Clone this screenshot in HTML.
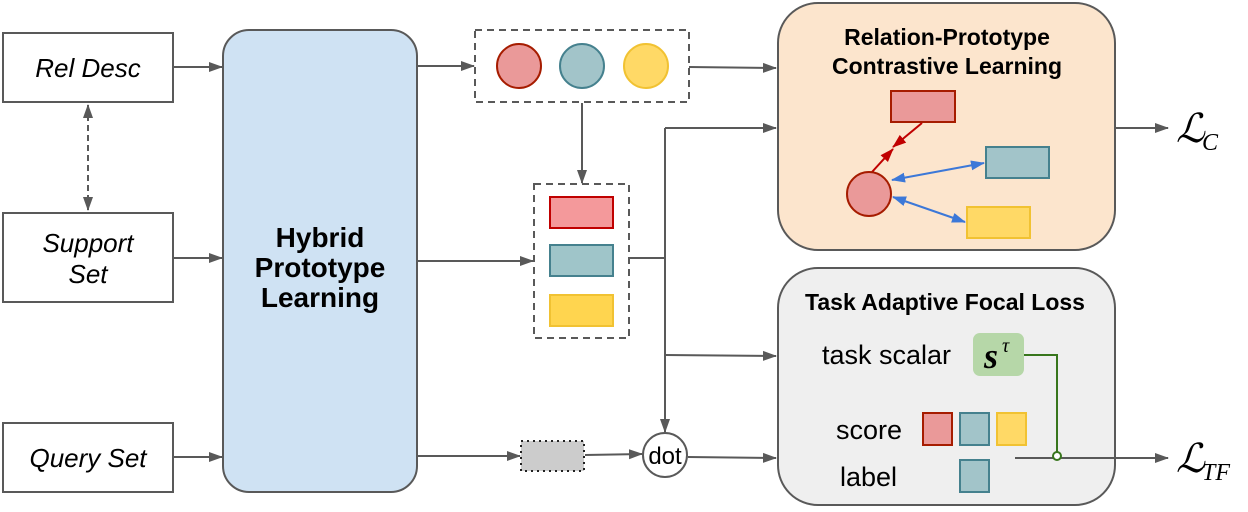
<!DOCTYPE html>
<html><head><style>body{margin:0;background:#fff}svg{display:block}</style></head><body>
<svg width="1248" height="512" viewBox="0 0 1248 512" xmlns="http://www.w3.org/2000/svg" font-family="Liberation Sans, Arial, sans-serif">
<defs>
<marker id="a" markerWidth="14" markerHeight="12" refX="13" refY="6" orient="auto" markerUnits="userSpaceOnUse"><path d="M0,1 L14,6 L0,11 z" fill="#595959"/></marker>
<marker id="as" markerWidth="14" markerHeight="12" refX="13" refY="6" orient="auto-start-reverse" markerUnits="userSpaceOnUse"><path d="M0,1 L14,6 L0,11 z" fill="#595959"/></marker>
<marker id="r" markerWidth="14" markerHeight="12" refX="13" refY="6" orient="auto" markerUnits="userSpaceOnUse"><path d="M0,1 L14,6 L0,11 z" fill="#c00000"/></marker>
<marker id="b" markerWidth="14" markerHeight="12" refX="13" refY="6" orient="auto-start-reverse" markerUnits="userSpaceOnUse"><path d="M0,1 L14,6 L0,11 z" fill="#3c78d8"/></marker>
</defs>
<g stroke="#595959" stroke-width="2" fill="none">
<rect x="3" y="33" width="170" height="69" fill="#fff"/>
<rect x="3" y="213" width="170" height="89" fill="#fff"/>
<rect x="3" y="423" width="170" height="69" fill="#fff"/>
<line x1="88" y1="105" x2="88" y2="210" stroke-dasharray="6,4" marker-start="url(#as)" marker-end="url(#as)"/>
<rect x="223" y="30" width="194" height="462" rx="26" fill="#cfe2f3"/>
<line x1="173" y1="67" x2="222" y2="67" marker-end="url(#a)"/>
<line x1="173" y1="258" x2="222" y2="258" marker-end="url(#a)"/>
<line x1="173" y1="457" x2="222" y2="457" marker-end="url(#a)"/>
<rect x="475" y="30" width="214" height="72" stroke-dasharray="7,5"/>
<line x1="417" y1="66" x2="474" y2="66" marker-end="url(#a)"/>
<line x1="689" y1="67" x2="776" y2="68" marker-end="url(#a)"/>
<line x1="582" y1="103" x2="582" y2="183" marker-end="url(#a)"/>
<rect x="534" y="184" width="95" height="154" stroke-dasharray="7,5"/>
<line x1="417" y1="261" x2="533" y2="261" marker-end="url(#a)"/>
<line x1="630" y1="258" x2="665" y2="258"/>
<line x1="665" y1="128" x2="665" y2="432" marker-end="url(#a)"/>
<line x1="665" y1="128" x2="776" y2="128" marker-end="url(#a)"/>
<line x1="665" y1="355" x2="776" y2="356" marker-end="url(#a)"/>
<line x1="417" y1="456" x2="520" y2="456" marker-end="url(#a)"/>
<line x1="585" y1="455" x2="642" y2="454" marker-end="url(#a)"/>
<line x1="688" y1="457" x2="776" y2="458" marker-end="url(#a)"/>
<circle cx="665" cy="455" r="22" fill="#fff"/>
<rect x="778" y="3" width="337" height="247" rx="40" fill="#fce5cd"/>
<rect x="778" y="268" width="337" height="237" rx="40" fill="#efefef"/>
<line x1="1115" y1="128" x2="1168" y2="128" marker-end="url(#a)"/>
<line x1="1015" y1="458" x2="1168" y2="458" marker-end="url(#a)"/>
</g>
<rect x="521" y="441" width="63" height="30" fill="#cccccc" stroke="#222" stroke-width="2" stroke-dasharray="2,4"/>
<circle cx="519" cy="66" r="22" fill="#ea9999" stroke="#a61c00" stroke-width="2"/>
<circle cx="582" cy="66" r="22" fill="#a2c4c9" stroke="#45818e" stroke-width="2"/>
<circle cx="646" cy="66" r="22" fill="#ffd966" stroke="#f1c232" stroke-width="2"/>
<rect x="550" y="197" width="63" height="31" fill="#f4999b" stroke="#c00000" stroke-width="2"/>
<rect x="550" y="245" width="63" height="31" fill="#9fc5c9" stroke="#45818e" stroke-width="2"/>
<rect x="550" y="295" width="63" height="31" fill="#ffd54f" stroke="#f1c232" stroke-width="2"/>
<rect x="891" y="91" width="64" height="31" fill="#ea9999" stroke="#a61c00" stroke-width="2"/>
<rect x="986" y="147" width="63" height="31" fill="#a2c4c9" stroke="#45818e" stroke-width="2"/>
<rect x="967" y="207" width="63" height="31" fill="#ffd966" stroke="#f1c232" stroke-width="2"/>
<line x1="922" y1="123" x2="893" y2="147" stroke="#c00000" stroke-width="2" marker-end="url(#r)"/>
<line x1="872" y1="172" x2="893" y2="149" stroke="#c00000" stroke-width="2" marker-end="url(#r)"/>
<line x1="892" y1="180" x2="984" y2="163" stroke="#3c78d8" stroke-width="2" marker-start="url(#b)" marker-end="url(#b)"/>
<line x1="893" y1="197" x2="965" y2="222" stroke="#3c78d8" stroke-width="2" marker-start="url(#b)" marker-end="url(#b)"/>
<circle cx="869" cy="194" r="22" fill="#ea9999" stroke="#a61c00" stroke-width="2"/>
<rect x="973" y="333" width="51" height="43" rx="7" fill="#b6d7a8"/>
<polyline points="1024,355 1057,355 1057,452" fill="none" stroke="#38761d" stroke-width="2"/>
<circle cx="1057" cy="456" r="4" fill="#fff" stroke="#38761d" stroke-width="2"/>
<rect x="923" y="413" width="29" height="32" fill="#ea9999" stroke="#a61c00" stroke-width="2"/>
<rect x="960" y="413" width="29" height="32" fill="#a2c4c9" stroke="#45818e" stroke-width="2"/>
<rect x="997" y="413" width="29" height="32" fill="#ffd966" stroke="#f1c232" stroke-width="2"/>
<rect x="960" y="460" width="29" height="32" fill="#a2c4c9" stroke="#45818e" stroke-width="2"/>
<g font-size="26" font-style="italic" text-anchor="middle" fill="#000">
<text x="88" y="77">Rel Desc</text>
<text x="88" y="252">Support</text>
<text x="88" y="283">Set</text>
<text x="88" y="467">Query Set</text>
</g>
<g font-size="28" font-weight="bold" text-anchor="middle">
<text x="320" y="247">Hybrid</text>
<text x="320" y="277">Prototype</text>
<text x="320" y="307">Learning</text>
</g>
<g font-weight="bold" text-anchor="middle">
<text x="947" y="45" font-size="23">Relation-Prototype</text>
<text x="947" y="74" font-size="23">Contrastive Learning</text>
<text x="945" y="310" font-size="23">Task Adaptive Focal Loss</text>
</g>
<text x="665" y="464" font-size="24" text-anchor="middle">dot</text>
<g font-size="27">
<text x="822" y="364">task scalar</text>
<text x="836" y="439">score</text>
<text x="840" y="486">label</text>
</g>
<text x="984" y="368" font-family="Liberation Serif, serif" font-style="italic" font-weight="bold" font-size="36">s</text>
<text x="1002" y="352" font-family="Liberation Serif, serif" font-style="italic" font-size="20">τ</text>
<text x="1176" y="142" font-family="Liberation Serif, serif" font-style="italic" font-size="40">ℒ</text>
<text x="1202" y="150" font-family="Liberation Serif, serif" font-style="italic" font-size="24">C</text>
<text x="1176" y="472" font-family="Liberation Serif, serif" font-style="italic" font-size="40">ℒ</text>
<text x="1202" y="480" font-family="Liberation Serif, serif" font-style="italic" font-size="24">TF</text>
</svg>
</body></html>
